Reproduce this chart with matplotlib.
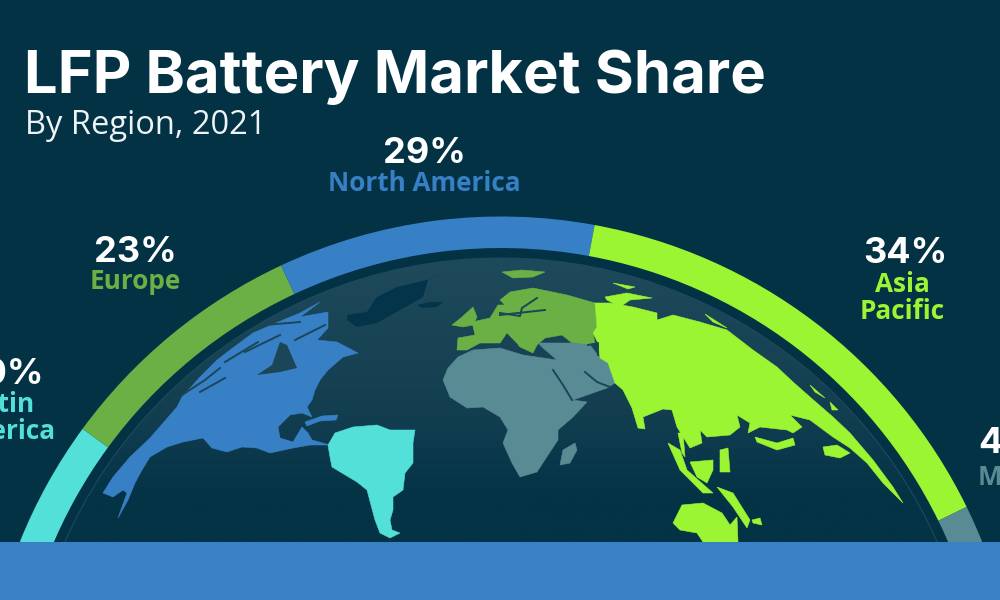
import numpy as np
import matplotlib
matplotlib.use('Agg')
import matplotlib.pyplot as plt
from matplotlib.patches import Wedge, Circle, Polygon

# Chart values
regions = ['Latin\nAmerica', 'Europe', 'North America', 'Asia\nPacific', 'Middle East']
shares = [10, 23, 29, 34, 4]
colors = ['#53e0d8', '#6ab045', '#3880c6', '#9cf532', '#588b94']
# visible arc of each region in degrees (not to scale with the shares)
arc_deg = [14.3, 28.7, 35.5, 53.5, 4.2]

bg = '#033245'
cx, cy = 501, 735
r_outer, r_inner, r_globe = 518.5, 487, 477

# Map outlines, in picture pixels
north_america = [(103, 493), (113, 477), (130, 457), (150, 438), (177, 407), (182, 397), (200, 377), (217, 360),
                 (230, 350), (253, 333), (283, 320), (300, 313), (320, 302), (300, 317), (328, 312), (328, 328),
                 (317, 340), (337, 342), (358, 353), (343, 357), (328, 370), (320, 380), (315, 390), (312, 400),
                 (307, 407), (312, 417), (302, 413), (290, 415), (278, 427), (280, 438), (293, 442), (302, 427),
                 (308, 433), (312, 440), (330, 445), (310, 445), (293, 448), (270, 453), (257, 448), (242, 447),
                 (227, 452), (212, 448), (203, 438), (183, 442), (167, 447), (150, 457), (142, 470), (135, 483),
                 (128, 500), (118, 518), (127, 493), (123, 490), (113, 497)]
cuba = [(305, 422), (322, 416), (338, 415), (336, 420), (320, 421), (307, 426)]
south_america = [(328, 445), (335, 433), (353, 427), (377, 425), (390, 430), (415, 430), (413, 443), (413, 463),
                 (405, 473), (403, 490), (393, 497), (393, 510), (390, 520), (392, 530), (400, 533), (390, 538),
                 (380, 533), (375, 520), (367, 490), (357, 482), (332, 467), (330, 457)]
greenland = [(347, 315), (367, 312), (377, 297), (397, 287), (427, 280), (447, 272), (428, 280), (423, 297),
             (400, 310), (377, 323), (357, 327), (347, 320)]
iceland = [(417, 305), (430, 302), (443, 302), (437, 307), (422, 308)]
hudson_bay = [(257, 375), (272, 365), (280, 342), (287, 345), (297, 368), (280, 372)]
europe = [(457, 350), (458, 338), (475, 335), (472, 322), (490, 318), (498, 305), (505, 305), (500, 300), (510, 292),
          (533, 288), (567, 295), (595, 303), (597, 327), (593, 333), (595, 343), (588, 345), (572, 343), (562, 335),
          (545, 338), (537, 345), (533, 353), (520, 347), (507, 333), (500, 343), (480, 343), (467, 350)]
uk = [(452, 325), (462, 317), (473, 307), (477, 317), (473, 325), (463, 327)]
svalbard = [(502, 272), (522, 270), (545, 272), (533, 277), (513, 278)]
mea = [(443, 380), (448, 368), (458, 357), (473, 350), (500, 348), (523, 355), (557, 360), (543, 348), (538, 343),
       (558, 343), (572, 343), (590, 345), (600, 358), (608, 363), (615, 383), (607, 388), (573, 400), (587, 402),
       (573, 417), (558, 430), (558, 440), (548, 455), (537, 472), (520, 477), (512, 463), (503, 443), (508, 430),
       (500, 417), (483, 407), (467, 408), (450, 397)]
madagascar = [(560, 465), (563, 450), (575, 443), (577, 450), (570, 463)]
asia = [(595, 303), (610, 303), (633, 307), (657, 313), (657, 320), (673, 315), (700, 322), (727, 330), (753, 350),
        (777, 367), (793, 382), (810, 397), (833, 417), (850, 433), (873, 460), (893, 487), (903, 503), (883, 483),
        (867, 463), (850, 448), (833, 437), (810, 420), (790, 415), (802, 427), (793, 433), (787, 430), (760, 427),
        (748, 433), (750, 423), (737, 415), (740, 427), (730, 435), (707, 437), (700, 430), (702, 443), (690, 448),
        (677, 427), (672, 410), (663, 409), (643, 417), (645, 429), (638, 428), (632, 408), (623, 390), (615, 383),
        (608, 363), (600, 358), (598, 343), (593, 333), (597, 327)]
asia_islands = [
    [(755, 437), (777, 443), (793, 438), (795, 445), (777, 450), (757, 442)],
    [(668, 443), (680, 450), (687, 470), (713, 493), (703, 493), (680, 470)],
    [(678, 433), (683, 433), (685, 457), (682, 453)],
    [(690, 462), (713, 460), (713, 470), (707, 483), (697, 477)],
    [(720, 450), (728, 448), (730, 472), (720, 472)],
    [(717, 487), (733, 493), (750, 520), (747, 528), (733, 507)],
    [(752, 520), (760, 518), (762, 525), (753, 523)],
    [(823, 447), (837, 445), (850, 453), (840, 458), (825, 455)],
    [(605, 297), (627, 293), (652, 298), (630, 300), (620, 307), (607, 300)],
    [(613, 283), (635, 287), (628, 289)],
    [(705, 314), (727, 328), (713, 322)],
    [(810, 385), (825, 398), (815, 392)],
    [(830, 402), (838, 410), (832, 410)],
]
australia = [(673, 523), (682, 505), (703, 503), (722, 513), (730, 525), (737, 517), (738, 542), (703, 542),
             (697, 533), (680, 530)]

# Water lines cut through the land
channels = [
    [(182, 395), (205, 380), (220, 368)], [(200, 392), (225, 378)], [(225, 362), (258, 342)],
    [(245, 352), (280, 335)], [(265, 325), (300, 322)], [(295, 340), (325, 325)],
    [(500, 313), (520, 316), (522, 308), (537, 298)], [(500, 315), (545, 310)],
    [(507, 335), (517, 345)], [(553, 370), (563, 385), (572, 400)], [(585, 372), (597, 382), (610, 387)],
    [(588, 345), (598, 343), (598, 355)],
]

fig = plt.figure(figsize=(10, 6), dpi=100, facecolor=bg)
ax = fig.add_axes([0, 0, 1, 1])
ax.set_facecolor(bg)

# Globe with its vertical gradient, darkest from about y=510 down
grad = np.linspace(0, 1, 256).reshape(-1, 1)
globe_cmap = matplotlib.colors.LinearSegmentedColormap.from_list(
    'globe', [(0, '#1f4a5c'), (0.55, '#123e50'), (0.85, '#033345'), (1, '#033345')])
img = ax.imshow(grad, cmap=globe_cmap, extent=(cx - r_globe, cx + r_globe, 542, cy - r_globe), aspect='auto', zorder=1)
rim = Circle((cx, cy), r_globe, transform=ax.transData)
img.set_clip_path(rim)
ax.add_patch(Circle((cx, cy), r_globe, fill=False, ec='#1d4a5c', lw=0.8, zorder=1.5))

# Ring, one wedge per region, left to right
start = -158.1
for span, col in zip(arc_deg, colors):
    ax.add_patch(Wedge((cx, cy), r_outer, start, start + span, width=r_outer - r_inner, fc=col, ec='none', zorder=2))
    start += span

# Continents
land = [(north_america, colors[2]), (cuba, colors[2]), (south_america, colors[0]), (europe, colors[1]), (uk, colors[1]),
        (svalbard, colors[1]), (mea, colors[4]), (madagascar, colors[4]), (asia, colors[3]), (australia, colors[3])]
land += [(isl, colors[3]) for isl in asia_islands]
for pts, col in land:
    ax.add_patch(Polygon(pts, closed=True, fc=col, ec=col, lw=0.4, zorder=3))
for pts in (greenland, iceland):
    ax.add_patch(Polygon(pts, closed=True, fc='#03344a', ec='none', zorder=3))
ax.add_patch(Polygon(hudson_bay, closed=True, fc='#1b4658', ec='none', zorder=3.5))
for line in channels:
    xs, ys = zip(*line)
    ax.plot(xs, ys, color='#1b4658', lw=1.4, zorder=3.5)

# Banner across the bottom
ax.axhspan(542, 600, color='#3a80c5', lw=0, zorder=5)

ax.set_xlim(0, 1000)
ax.set_ylim(600, 0)
ax.axis('off')

# Title
ax.text(24, 93, 'LFP Battery Market Share', color='white', fontsize=43, family='Inter', fontweight='bold', va='baseline')
ax.text(25, 134, 'By Region, 2021', color='#eef3f5', fontsize=23.5, family='Open Sans', va='baseline')

# Region labels, percent above name
pct_x = [6, 135, 424, 905, 978]
name_x = [1.5, 135, 424, 902, 978]
pct_y = [384, 262, 163, 263, 453]
name_y = [439, 289, 191, 319, 485]
for i in range(len(shares)):
    ha = 'left' if i == 4 else 'center'
    ax.text(pct_x[i], pct_y[i], f'{shares[i]}%', color='white', fontsize=26, family='Inter', fontweight='bold',
            ha=ha, va='baseline')
    ax.text(name_x[i], name_y[i], regions[i], color=colors[i], fontsize=18.8, family='Open Sans', fontweight='bold',
            ha=ha, va='baseline', linespacing=1.0)

fig.savefig('out.png', dpi=100, facecolor=bg)
